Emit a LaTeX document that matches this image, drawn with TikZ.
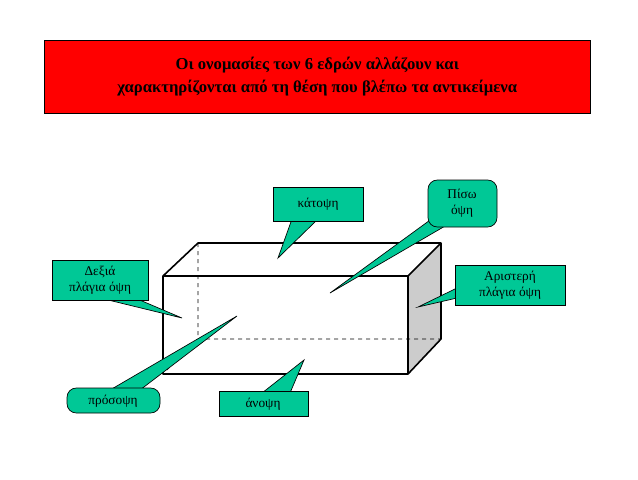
\documentclass[tikz,border=0pt]{standalone}
\usepackage{fontspec}
\setmainfont{Liberation Serif}
\begin{document}
\begin{tikzpicture}[x=0.75pt,y=-0.75pt,
  call/.style={fill=callc,draw=black,line width=0.5pt},
  lbl/.style={font=\fontsize{10}{12}\selectfont,align=center,inner sep=0pt}]
\definecolor{callc}{RGB}{0,200,150}
\useasboundingbox (0,0) rectangle (638,479);
\fill[white] (0,0) rectangle (638,479);
% title
\node[draw=black,fill=red,minimum width=546*0.75pt,minimum height=73*0.75pt,anchor=north west,
  font=\bfseries\fontsize{12.5}{17}\selectfont,align=center,inner sep=0pt] (title) at (44,40)
  {Οι ονομασίες των 6 εδρών αλλάζουν και\\χαρακτηρίζονται  από τη θέση που βλέπω τα αντικείμενα};
% box
\coordinate (A) at (163,276); \coordinate (B) at (408,276);
\coordinate (C) at (408,374); \coordinate (D) at (163,374);
\coordinate (E) at (198,243); \coordinate (F) at (441,243);
\coordinate (G) at (441,339); \coordinate (H) at (198,339);
\fill[gray!40] (B) -- (F) -- (G) -- (C) -- cycle;
\draw[dashed,line width=0.4pt] (E) -- (H) -- (G) (H) -- (D);
\draw[line width=1.2pt,line join=round] (A) -- (B) -- (C) -- (D) -- cycle (A) -- (E) -- (F) -- (B) (F) -- (G) -- (C);
% callouts
\coordinate (t1) at (278,258); \draw[call] (292,219) -- (t1) -- (318,219);
\draw[call] (273,187) rectangle (363,221);
\node[lbl] (k) at (318,204) {κάτοψη};
\coordinate (t2) at (330,293); \draw[call] (437,215) -- (t2) -- (452,222);
\draw[call,rounded corners=7pt] (428,180) rectangle (497,227);
\node[lbl] (p) at (462,203) {Πίσω\\όψη};
\coordinate (t3) at (182,318); \draw[call] (100,298) -- (t3) -- (135,298);
\draw[call] (52,260) rectangle (148,300);
\node[lbl] (d) at (100,280) {Δεξιά\\πλάγια όψη};
\coordinate (t4) at (418,307); \draw[call] (457,288) -- (t4) -- (457,298);
\draw[call] (455,265) rectangle (565,305);
\node[lbl] (ar) at (510,285) {Αριστερή\\πλάγια όψη};
\coordinate (t5) at (237,316); \draw[call] (110,390) -- (t5) -- (140,390);
\draw[call,rounded corners=7pt] (67,388) rectangle (160,413);
\node[lbl] (pr) at (113,401) {πρόσοψη};
\coordinate (t6) at (304,360); \draw[call] (262,393) -- (t6) -- (290,393);
\draw[call] (219,391) rectangle (308,416);
\node[lbl] (an) at (263,404) {άνοψη};
\end{tikzpicture}
\end{document}
